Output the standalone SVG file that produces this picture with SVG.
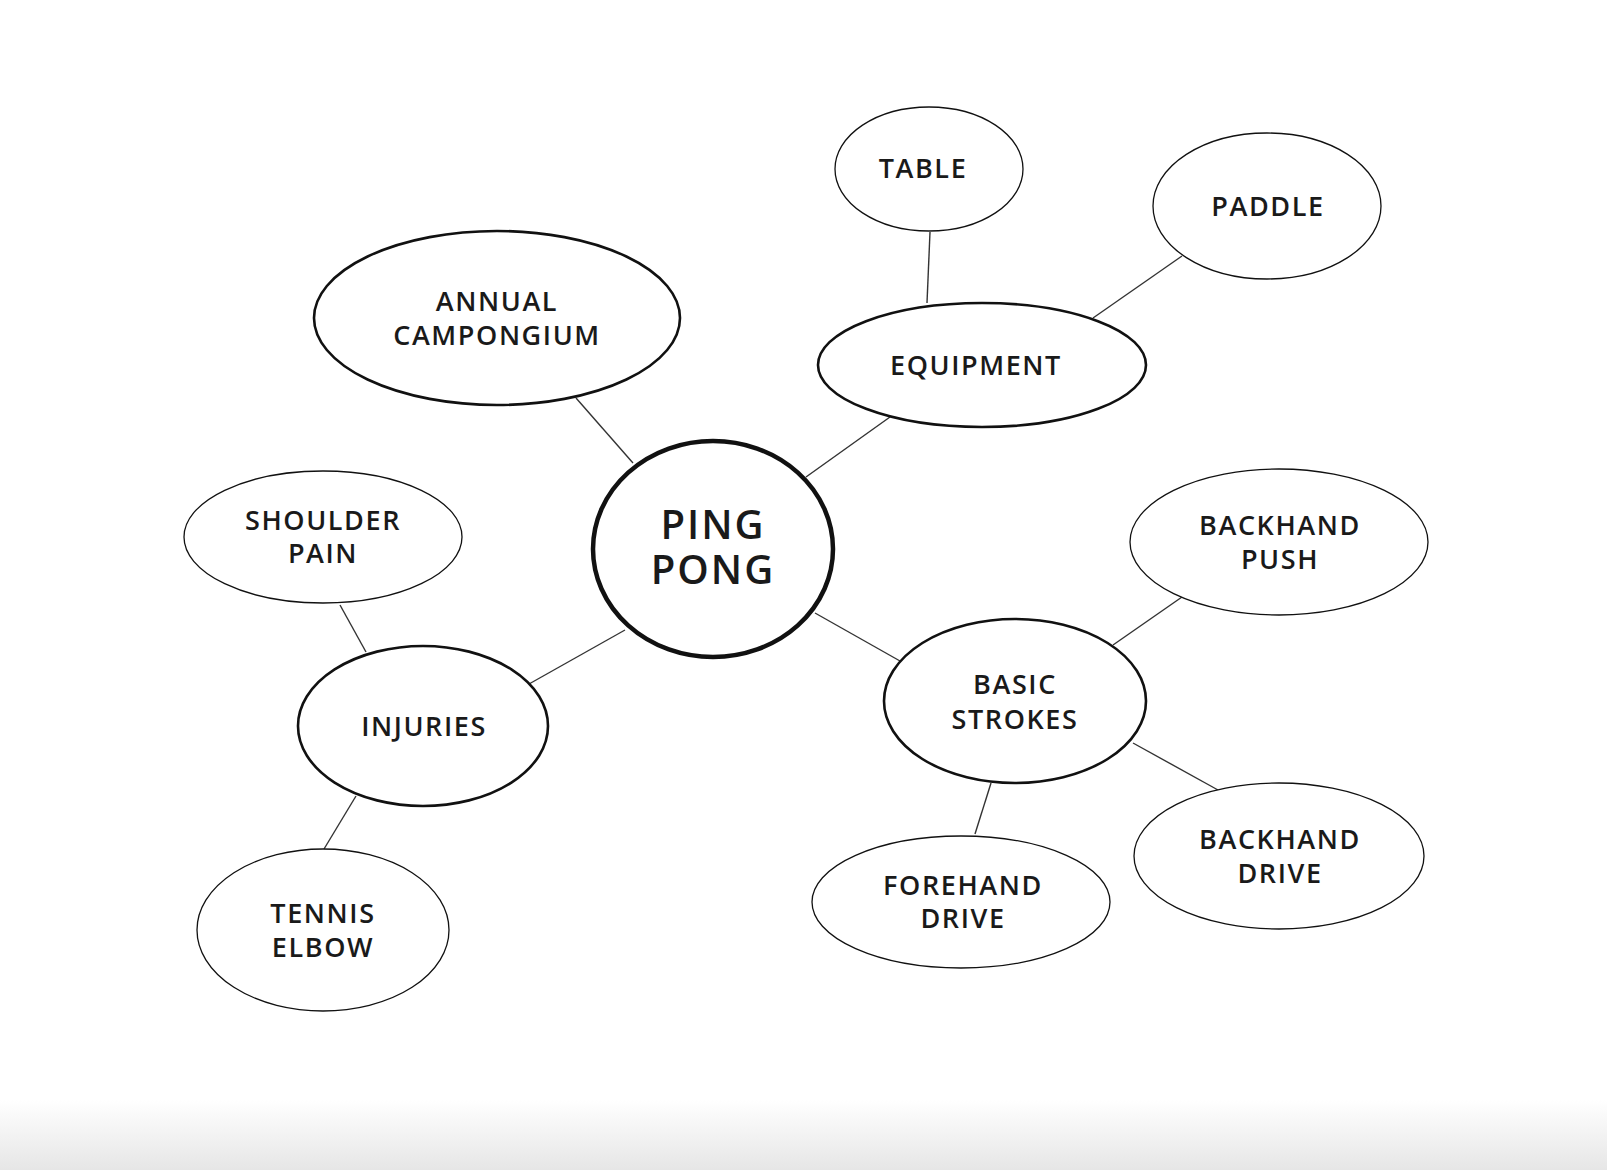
<svg xmlns="http://www.w3.org/2000/svg" width="1607" height="1170" viewBox="0 0 1607 1170">
<defs>
<linearGradient id="bg" x1="0" y1="0" x2="0" y2="1"><stop offset="0" stop-color="#ffffff"/><stop offset="1" stop-color="#e6e6e6"/></linearGradient>
<style>
.n{fill:#fff;stroke:#111}
.thin{stroke-width:1.3}
.mid{stroke-width:2.6}
.t{font-family:"Open Sans","Noto Sans",sans-serif;font-weight:600;font-size:27px;fill:#1a1a1a;text-anchor:middle;letter-spacing:1.6px}
.big{font-size:40px;letter-spacing:2px}
#edges line{stroke:#333;stroke-width:1.4}
</style>
</defs>
<rect width="1607" height="1170" fill="#fff"/>
<rect y="1100" width="1607" height="70" fill="url(#bg)"/>
<g id="edges">
<line x1="576" y1="398" x2="633" y2="463"/>
<line x1="890" y1="417" x2="806" y2="477"/>
<line x1="930" y1="232" x2="927" y2="303"/>
<line x1="1182" y1="256" x2="1093" y2="318"/>
<line x1="625" y1="630" x2="529" y2="684"/>
<line x1="340" y1="605" x2="366" y2="652"/>
<line x1="356" y1="796" x2="324" y2="849"/>
<line x1="815" y1="613" x2="900" y2="661"/>
<line x1="1182" y1="597" x2="1113" y2="645"/>
<line x1="991" y1="783" x2="975" y2="834"/>
<line x1="1133" y1="743" x2="1218" y2="790"/>
</g>
<g id="pingpong"><ellipse class="n" cx="713" cy="549" rx="120" ry="108" stroke-width="4.5"/><text class="t big" x="713" y="539">PING<tspan x="713" dy="45">PONG</tspan></text></g>
<g id="annual"><ellipse class="n mid" cx="497" cy="318" rx="183" ry="87"/><text class="t" x="497" y="311">ANNUAL<tspan x="497" dy="34">CAMPONGIUM</tspan></text></g>
<g id="equipment"><ellipse class="n mid" cx="982" cy="365" rx="164" ry="62"/><text class="t" x="976" y="375">EQUIPMENT</text></g>
<g id="table"><ellipse class="n thin" cx="929" cy="169" rx="94" ry="62"/><text class="t" x="923" y="178">TABLE</text></g>
<g id="paddle"><ellipse class="n thin" cx="1267" cy="206" rx="114" ry="73"/><text class="t" x="1268" y="216">PADDLE</text></g>
<g id="shoulder"><ellipse class="n thin" cx="323" cy="537" rx="139" ry="66"/><text class="t" x="323" y="530">SHOULDER<tspan x="323" dy="33">PAIN</tspan></text></g>
<g id="injuries"><ellipse class="n mid" cx="423" cy="726" rx="125" ry="80"/><text class="t" x="424" y="736">INJURIES</text></g>
<g id="tennis"><ellipse class="n thin" cx="323" cy="930" rx="126" ry="81"/><text class="t" x="323" y="923">TENNIS<tspan x="323" dy="34">ELBOW</tspan></text></g>
<g id="bpush"><ellipse class="n thin" cx="1279" cy="542" rx="149" ry="73"/><text class="t" x="1280" y="535">BACKHAND<tspan x="1280" dy="34">PUSH</tspan></text></g>
<g id="basic"><ellipse class="n mid" cx="1015" cy="701" rx="131" ry="82"/><text class="t" x="1015" y="694">BASIC<tspan x="1015" dy="35">STROKES</tspan></text></g>
<g id="fdrive"><ellipse class="n thin" cx="961" cy="902" rx="149" ry="66"/><text class="t" x="963" y="895">FOREHAND<tspan x="963" dy="33">DRIVE</tspan></text></g>
<g id="bdrive"><ellipse class="n thin" cx="1279" cy="856" rx="145" ry="73"/><text class="t" x="1280" y="849">BACKHAND<tspan x="1280" dy="34">DRIVE</tspan></text></g>
</svg>
